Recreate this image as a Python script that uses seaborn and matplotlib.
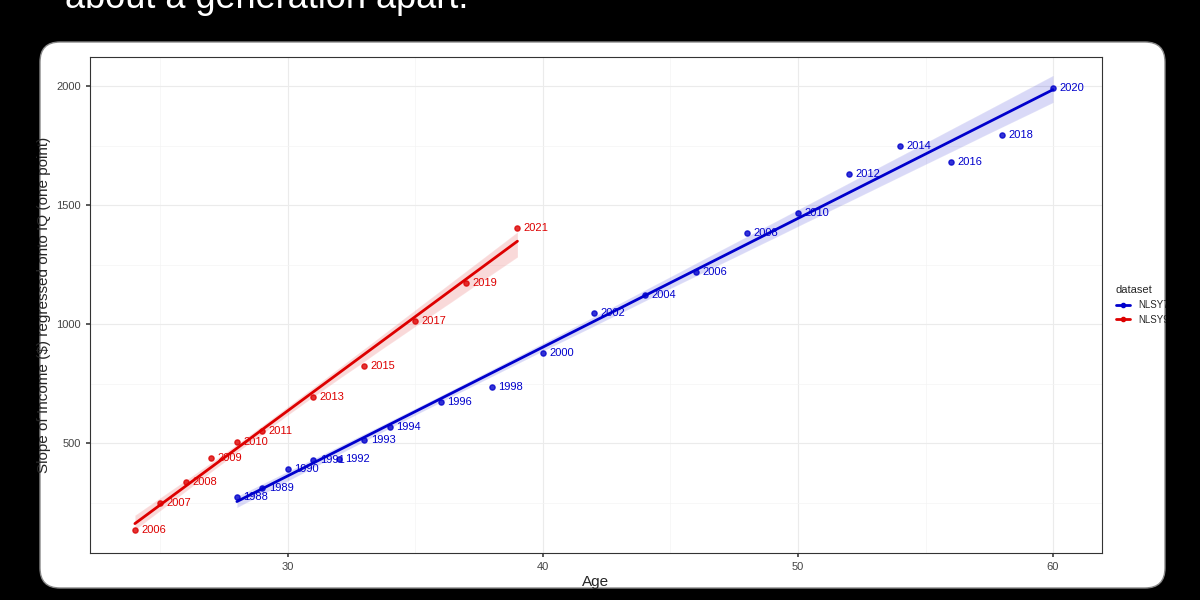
import matplotlib
matplotlib.use("Agg")
import matplotlib.pyplot as plt
import seaborn as sns
import pandas as pd
from matplotlib.patches import FancyBboxPatch, Rectangle
from matplotlib.lines import Line2D

age97 = [24, 25, 26, 27, 28, 29, 31, 33, 35, 37, 39]
val97 = [135, 248, 336, 437, 504, 550, 693, 823, 1013, 1172, 1403]
yr97 = [2006, 2007, 2008, 2009, 2010, 2011, 2013, 2015, 2017, 2019, 2021]
age79 = [28, 29, 30, 31, 32, 33, 34, 36, 38, 40, 42, 44, 46, 48, 50, 52, 54, 56, 58, 60]
val79 = [273, 311, 391, 429, 433, 513, 567, 672, 735, 878, 1046, 1122, 1218, 1382, 1466, 1630, 1748, 1681, 1794, 1992]
yr79 = [1988, 1989, 1990, 1991, 1992, 1993, 1994, 1996, 1998, 2000, 2002, 2004, 2006, 2008, 2010, 2012, 2014, 2016, 2018, 2020]

sns.set_theme(style="whitegrid")
plt.rcParams['font.family'] = ['Liberation Sans', 'DejaVu Sans']
fig = plt.figure(figsize=(12, 6), dpi=100, facecolor="black")

bg = fig.add_axes([0, 0, 1, 1], zorder=-5)
bg.set_xlim(0, 1200); bg.set_ylim(600, 0); bg.axis("off")
bg.add_patch(FancyBboxPatch((40, 42), 1125, 546, boxstyle="round,pad=0,rounding_size=20",
                            facecolor="white", edgecolor="#888888", lw=1))
bg.text(65, -2, "about a generation apart.", color="white", fontsize=26, va="center", ha="left")

ax = fig.add_axes([90/1200, 47/600, 1012/1200, 496/600], zorder=1)
ax.set_facecolor("white")
for ages, vals, yrs, col in [(age79, val79, yr79, "#0000CC"), (age97, val97, yr97, "#DD0000")]:
    df = pd.DataFrame({"age": ages, "val": vals})
    sns.regplot(data=df, x="age", y="val", ax=ax, color=col, ci=95, truncate=True,
                scatter_kws=dict(s=14, zorder=3), line_kws=dict(lw=2, zorder=2))
    for a, v, y in zip(ages, vals, yrs):
        ax.text(a + 0.25, v, str(y), color=col, fontsize=8, va="center", ha="left")
ax.set_xlim(22.24, 61.92)
ax.set_ylim(38, 2122)
ax.set_xticks([30, 40, 50, 60])
ax.set_yticks([500, 1000, 1500, 2000])
ax.set_xlabel("Age", fontsize=11, labelpad=2)
ax.set_ylabel("Slope of Income ($) regressed onto IQ (one point)", fontsize=11)
ax.tick_params(labelsize=8, colors="#444444", length=3, left=True, bottom=True)
ax.grid(True, color="#ebebeb", lw=0.8)
ax.set_xticks([25, 35, 45, 55], minor=True)
ax.set_yticks([250, 750, 1250, 1750], minor=True)
ax.grid(True, which="minor", color="#f4f4f4", lw=0.5)
for s in ax.spines.values():
    s.set_color("#333333"); s.set_linewidth(0.8)
handles = [Line2D([], [], color="#0000CC", marker="o", ms=3, lw=2),
           Line2D([], [], color="#DD0000", marker="o", ms=3, lw=2)]
ax.legend(handles, ["NLSY79", "NLSY97"], title="dataset", loc="center left",
          bbox_to_anchor=(1.005, 0.5), frameon=False, fontsize=7, title_fontsize=8,
          handlelength=1.5, alignment="left")

fg = fig.add_axes([0, 0, 1, 1], zorder=10)
fg.set_xlim(0, 1200); fg.set_ylim(600, 0); fg.axis("off")
fg.add_patch(Rectangle((1166, 0), 34, 600, facecolor="black", edgecolor="none"))
fig.savefig("out.png", dpi=100, facecolor="black")
